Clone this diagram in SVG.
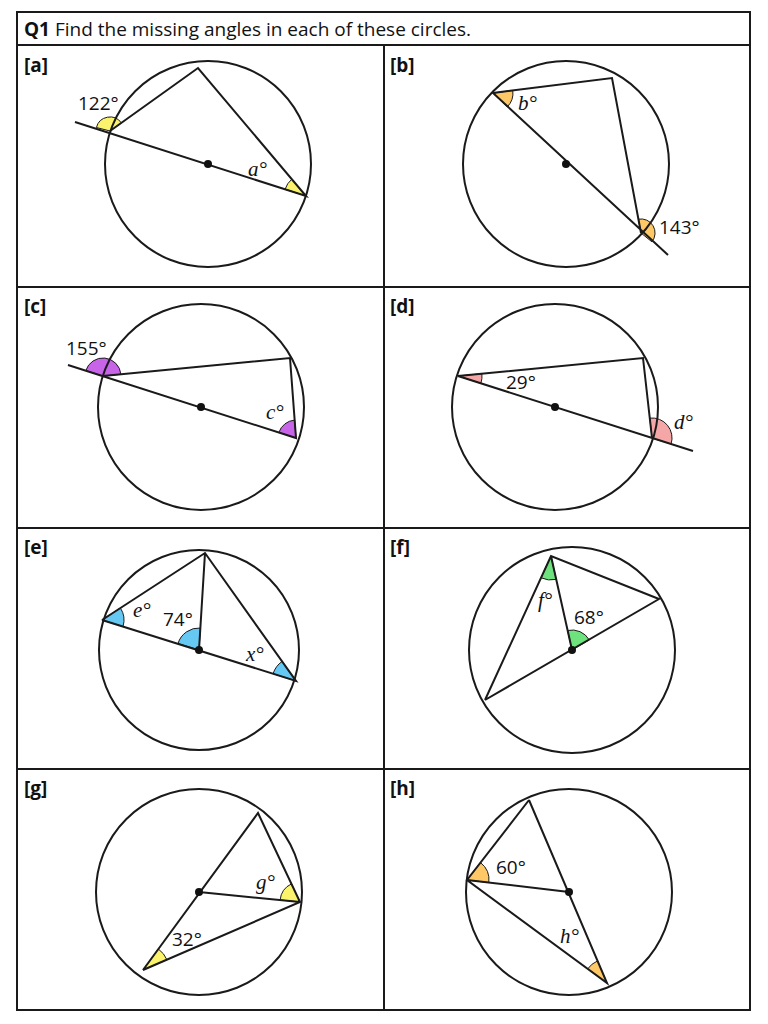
<svg xmlns="http://www.w3.org/2000/svg" width="768" height="1024" viewBox="0 0 768 1024">
<style>
.g{fill:none;stroke:#1a1a1a;stroke-width:2}
.c{fill:none;stroke:#1a1a1a;stroke-width:2}
.w{stroke:#1a1a1a;stroke-width:1}
.t{font-family:"Open Sans","Liberation Sans",sans-serif;font-size:19px;fill:#111}
.v{font-family:"Liberation Serif",serif;font-style:italic;font-size:21px;fill:#111}
.lb{font-family:"Open Sans","Liberation Sans",sans-serif;font-size:19px;font-weight:bold;fill:#111}
.y{fill:#fbf36b}.o{fill:#fdc865}.p{fill:#c764e8}.k{fill:#f5a6a6}.b{fill:#66c9f4}.gr{fill:#6ee27c}
</style>
<rect x="0" y="0" width="768" height="1024" fill="#fff"/>
<g id="grid" class="g">
<rect x="17" y="12" width="733" height="998"/>
<line x1="17" y1="45" x2="750" y2="45"/>
<line x1="384" y1="45" x2="384" y2="1010"/>
<line x1="17" y1="287" x2="750" y2="287"/>
<line x1="17" y1="528" x2="750" y2="528"/>
<line x1="17" y1="769" x2="750" y2="769"/>
</g>
<text x="24" y="36" class="t" style="font-size:19px"><tspan font-weight="bold">Q1</tspan> Find the missing angles in each of these circles.</text>
<g id="a">
<text x="24" y="72" class="lb">[a]</text>
<path class="w y" d="M110,131 L96.4,127.5 A14,14 0 0 1 121.4,122.9 Z"/>
<path class="w y" d="M306,196 L285.1,189.2 A22,22 0 0 1 291.8,179.2 Z"/>
<circle class="c" cx="208" cy="164" r="103"/>
<path class="c" d="M75,122 L306,196 L198,68 L110,131"/>
<circle cx="208" cy="164" r="4" fill="#111"/>
<text x="78" y="110" class="t">122°</text>
<text x="248" y="176" class="v">a°</text>
</g>
<g id="b">
<text x="390" y="72" class="lb">[b]</text>
<path class="w o" d="M493,93 L512.8,90.5 A20,20 0 0 1 507.3,106.9 Z"/>
<path class="w o" d="M641,233 L638.4,219.2 A14,14 0 0 1 651.9,241.8 Z"/>
<circle class="c" cx="566" cy="164" r="103"/>
<path class="c" d="M668,255 L493,93 L612,78 L641,233"/>
<circle cx="566" cy="164" r="4" fill="#111"/>
<text x="518" y="110" class="v">b°</text>
<text x="659" y="234" class="t">143°</text>
</g>
<g id="c">
<text x="24" y="313" class="lb">[c]</text>
<path class="w p" d="M103,376 L85.8,370.6 A18,18 0 0 1 120.9,374.3 Z"/>
<path class="w p" d="M296,438 L278.9,432.4 A18,18 0 0 1 294.6,420.1 Z"/>
<circle class="c" cx="201" cy="407" r="103"/>
<path class="c" d="M68,365 L296,438 L290,358 L103,376"/>
<circle cx="201" cy="407" r="4" fill="#111"/>
<text x="66" y="355" class="t">155°</text>
<text x="266" y="419" class="v">c°</text>
</g>
<g id="d">
<text x="390" y="313" class="lb">[d]</text>
<path class="w k" d="M458,376 L481.9,373.7 A24,24 0 0 1 480.9,383.3 Z"/>
<path class="w k" d="M652,438 L649.8,418.1 A20,20 0 0 1 671.1,444 Z"/>
<circle class="c" cx="555" cy="407" r="103"/>
<path class="c" d="M693,451 L458,376 L643,358 L652,438"/>
<circle cx="555" cy="407" r="4" fill="#111"/>
<text x="506" y="389" class="t">29°</text>
<text x="674" y="429" class="v">d°</text>
</g>
<g id="e">
<text x="24" y="554" class="lb">[e]</text>
<path class="w b" d="M102,620 L120.4,608 A22,22 0 0 1 123,626.5 Z"/>
<path class="w b" d="M199,650 L178,643.5 A22,22 0 0 1 200.4,628 Z"/>
<path class="w b" d="M296,681 L273.1,673.7 A24,24 0 0 1 282.1,661.4 Z"/>
<circle class="c" cx="199" cy="650" r="100"/>
<path class="c" d="M102,620 L296,681 L205,553 L102,620 M205,553 L199,650"/>
<circle cx="199" cy="650" r="4" fill="#111"/>
<text x="133" y="617" class="v">e°</text>
<text x="163" y="626" class="t">74°</text>
<text x="246" y="661" class="v">x°</text>
</g>
<g id="f">
<text x="390" y="554" class="lb">[f]</text>
<path class="w gr" d="M551,556 L556.2,579.4 A24,24 0 0 1 541,577.8 Z"/>
<path class="w gr" d="M572,650 L567.6,630.5 A20,20 0 0 1 589.3,639.9 Z"/>
<circle class="c" cx="572" cy="650" r="103"/>
<path class="c" d="M485,700 L659,599 L551,556 L485,700 M551,556 L572,650"/>
<circle cx="572" cy="650" r="4" fill="#111"/>
<text x="538" y="607" class="v">f°</text>
<text x="574" y="624" class="t">68°</text>
</g>
<g id="g">
<text x="24" y="795" class="lb">[g]</text>
<path class="w y" d="M300,902 L280.1,900 A20,20 0 0 1 291.5,883.9 Z"/>
<path class="w y" d="M143,970 L158.4,949 A26,26 0 0 1 166.9,959.7 Z"/>
<circle class="c" cx="199" cy="892" r="103"/>
<path class="c" d="M143,970 L258,813 L300,902 L143,970 M199,892 L300,902"/>
<circle cx="199" cy="892" r="4" fill="#111"/>
<text x="256" y="889" class="v">g°</text>
<text x="172" y="946" class="t">32°</text>
</g>
<g id="h">
<text x="390" y="795" class="lb">[h]</text>
<path class="w o" d="M467,880 L480.5,862.6 A22,22 0 0 1 488.8,882.6 Z"/>
<path class="w o" d="M607,983 L587.7,968.8 A24,24 0 0 1 597.6,960.9 Z"/>
<circle class="c" cx="569" cy="892" r="103"/>
<path class="c" d="M529,800 L607,983 L467,880 L529,800 M467,880 L569,892"/>
<circle cx="569" cy="892" r="4" fill="#111"/>
<text x="496" y="874" class="t">60°</text>
<text x="560" y="943" class="v">h°</text>
</g>
</svg>
